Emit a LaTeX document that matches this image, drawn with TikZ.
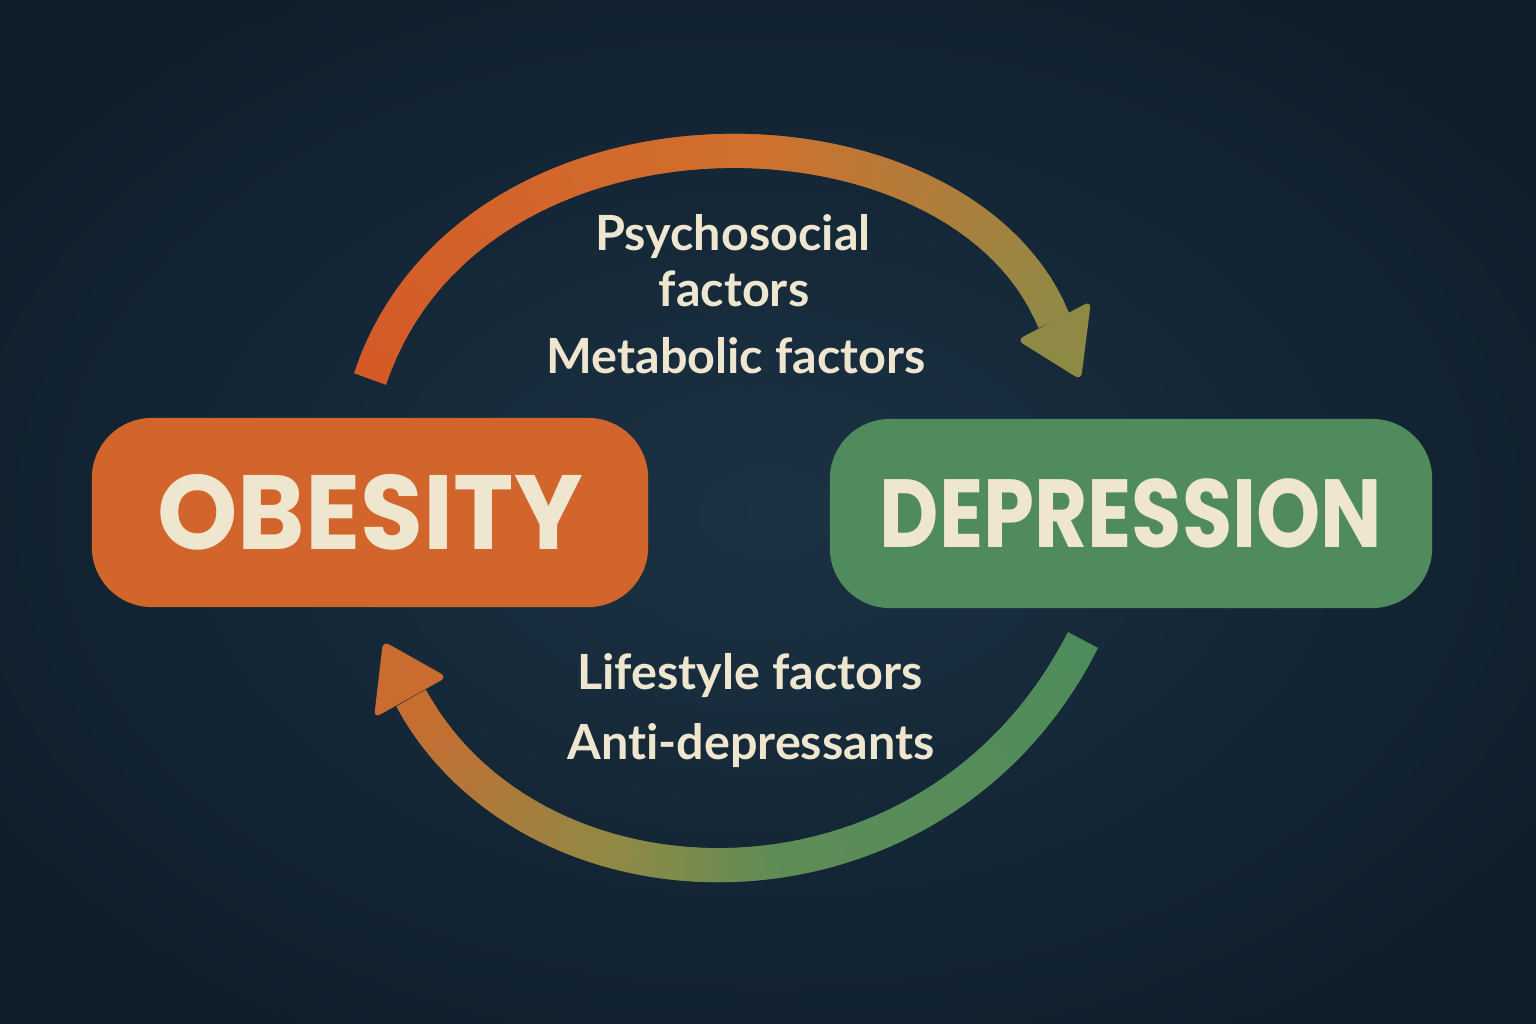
\documentclass[tikz,border=0pt]{standalone}
\usepackage{fontspec}
\setmainfont{Lato}[Ligatures=NoCommon]
\newfontfamily\ttlfont{Poppins}[FakeStretch=0.97]
\newfontfamily\ttlfontn{Poppins}[FakeStretch=0.845]
\usetikzlibrary{calc}

\definecolor{bgdark}{HTML}{0F1E2B}
\definecolor{bgmid}{HTML}{1B3244}
\definecolor{obeorange}{HTML}{D2652B}
\definecolor{depgreen}{HTML}{4F8B5D}
\definecolor{cream}{HTML}{EFE6D0}
\definecolor{arrred}{HTML}{D45A28}
\definecolor{arrorange}{HTML}{D0702E}
\definecolor{arrolive}{HTML}{8E8A46}
\definecolor{arrgreen}{HTML}{4E8C5C}
\definecolor{arrgreenb}{HTML}{5E8C56}
\definecolor{arrheadorange}{HTML}{CA6B2F}

\tikzset{
	pill/.style={rectangle, rounded corners=0.6cm, minimum height=1.89cm, text=cream, inner sep=0pt},
	lbl/.style={text=cream, font=\fontsize{13.8}{13.8}\selectfont\bfseries, inner sep=0pt, anchor=base},
	shaft/.style={line width=0.34cm, line cap=butt, line join=round},
}

\begin{document}
\begin{tikzpicture}[x=0.01cm, y=-0.01cm]
	\def\nseg{60}
	\useasboundingbox (0,0) rectangle (1536,1024);
	\fill[bgdark] (0,0) rectangle (1536,1024);
	\shade[inner color=bgmid, outer color=bgdark] (-150,-100) rectangle (1686,1124);
	
	% boxes
	\node[pill, fill=obeorange, minimum width=5.56cm] (obesity) at (370,512.5)
		{\ttlfont\bfseries\fontsize{30}{30}\selectfont OBESITY};
	\node[pill, fill=depgreen, minimum width=6.02cm] (depression) at (1131,513.5)
		{\ttlfontn\bfseries\fontsize{27.5}{27.5}\selectfont DEPRESSION};
	
	% top arrow: obesity -> depression
	\coordinate (ts) at (370,379);
	\coordinate (tc1) at (470,80);
	\coordinate (tc2) at (960,90);
	\coordinate (te) at (1054,321);
	\coordinate (ttip) at (1081,380);
	\foreach \i in {0,...,\nseg}{
		\path (ts) .. controls (tc1) and (tc2) .. (te) coordinate[pos=\i/\nseg] (ta\i);
	}
	\foreach \i in {0,...,58}{
		\pgfmathtruncatemacro\j{\i+1}
		\pgfmathtruncatemacro\k{\i+2}
		\pgfmathtruncatemacro\tp{100*\j/\nseg}
		\ifnum\tp<55
			\pgfmathtruncatemacro\pc{\tp*100/55}
			\colorlet{segc}{arrorange!\pc!arrred}
		\else
			\pgfmathtruncatemacro\pc{(\tp-55)*100/45}
			\colorlet{segc}{arrolive!\pc!arrorange}
		\fi
		\draw[shaft, segc] (ta\i) -- (ta\j) -- (ta\k);
	}
	\fill[arrolive, rounded corners=2pt] (ttip) -- (1017,340) -- (1091,301) -- cycle;
	
	% bottom arrow: depression -> obesity
	\coordinate (bs) at (1083,640);
	\coordinate (bc1) at (934,934);
	\coordinate (bc2) at (535,926);
	\coordinate (be) at (411,698);
	\coordinate (btip) at (383,641);
	\foreach \i in {0,...,\nseg}{
		\path (bs) .. controls (bc1) and (bc2) .. (be) coordinate[pos=\i/\nseg] (ba\i);
	}
	\foreach \i in {0,...,58}{
		\pgfmathtruncatemacro\j{\i+1}
		\pgfmathtruncatemacro\k{\i+2}
		\pgfmathtruncatemacro\tp{100*\j/\nseg}
		\ifnum\tp<45
			\pgfmathtruncatemacro\pc{\tp*100/45}
			\colorlet{segc}{arrgreenb!\pc!arrgreen}
		\else\ifnum\tp<65
			\pgfmathtruncatemacro\pc{(\tp-45)*100/20}
			\colorlet{segc}{arrolive!\pc!arrgreenb}
		\else
			\pgfmathtruncatemacro\pc{(\tp-65)*100/35}
			\colorlet{segc}{arrheadorange!\pc!arrolive}
		\fi\fi
		\draw[shaft, segc] (ba\i) -- (ba\j) -- (ba\k);
	}
	\fill[arrheadorange, rounded corners=2pt] (btip) -- (374,718) -- (447,677) -- cycle;
	
	% labels
	\node[lbl] (psy) at (733,250) {Psychosocial};
	\node[lbl] (fac) at (734,306) {factors};
	\node[lbl] (met) at (736,373) {Metabolic factors};
	\node[lbl] (life) at (750,689) {Lifestyle factors};
	\node[lbl] (anti) at (751,759) {Anti-depressants};
\end{tikzpicture}
\end{document}
